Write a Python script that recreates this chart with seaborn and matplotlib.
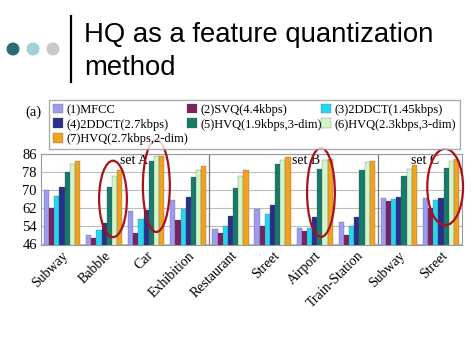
import numpy as np
import pandas as pd
import seaborn as sns
from matplotlib import pyplot as plt
from matplotlib.patches import Ellipse, Circle
from matplotlib.lines import Line2D
from matplotlib.transforms import ScaledTranslation

# noise conditions (set A: 4, set B: 4, set C: 2)
conditions = ['Subway', 'Babble', 'Car', 'Exhibition', 'Restaurant',
              'Street', 'Airport', 'Train-Station', 'Subway', 'Street']
methods = ['(1)MFCC', '(2)SVQ(4.4kbps)', '(3)2DDCT(1.45kbps)',
           '(4)2DDCT(2.7kbps)', '(5)HVQ(1.9kbps,3-dim)',
           '(6)HVQ(2.3kbps,3-dim)', '(7)HVQ(2.7kbps,2-dim)']

mfcc     = [70.1, 50.0, 60.7, 65.4, 52.6, 61.7, 53.2, 55.9, 66.4, 66.4]
svq      = [62.0, 48.4, 51.0, 56.7, 50.7, 54.1, 51.6, 50.0, 65.3, 62.0]
ddct145  = [67.2, 52.3, 57.0, 61.7, 53.9, 59.5, 53.0, 53.8, 66.1, 65.4]
ddct27   = [71.1, 55.5, 60.9, 66.9, 58.4, 63.2, 58.0, 58.0, 67.0, 66.3]
hvq19    = [78.2, 71.1, 83.1, 75.7, 70.7, 81.4, 79.4, 79.1, 76.2, 79.6]
hvq23    = [81.6, 76.4, 85.3, 79.1, 76.3, 83.5, 83.4, 82.6, 79.2, 82.9]
hvq27    = [83.1, 78.9, 85.3, 80.6, 78.9, 84.8, 83.8, 83.1, 81.3, 83.6]

yticks = [46, 54, 62, 70, 78, 86]
colors = ['#9d9cf0', '#7c2060', '#22d8f0', '#2b2f8c', '#167a6c', '#d2f5c8', '#f2a21e']

series = [mfcc, svq, ddct145, ddct27, hvq19, hvq23, hvq27]
rows = []
for m, vals in zip(methods, series):
    for i, v in enumerate(vals):
        rows.append({'cond': str(i), 'method': m, 'val': v})
df = pd.DataFrame(rows)

fig = plt.figure(figsize=(4.74, 3.55), dpi=100)

# slide header
for cx, c in zip([13, 33, 53], ['#2d6b70', '#9fd2d4', '#c9c9c9']):
    fig.add_artist(Circle((cx / 100, (355 - 49) / 100), 0.058, color=c,
                          transform=fig.dpi_scale_trans))
fig.add_artist(Line2D([71 / 474, 71 / 474], [1 - 16 / 355, 1 - 82 / 355],
                      color='black', lw=1.6))
fig.text(84 / 474, 1 - 42 / 355, 'HQ as a feature quantization',
         fontsize=19.8, family='Liberation Sans', va='baseline')
fig.text(84 / 474, 1 - 75 / 355, 'method',
         fontsize=19.8, family='Liberation Sans', va='baseline')

ax = fig.add_axes([41 / 474, 1 - 245 / 355, 421 / 474, 91 / 355])
sns.barplot(data=df, x='cond', y='val', hue='method', palette=colors,
            saturation=1, width=0.86, edgecolor='#555555', linewidth=0.2,
            ax=ax, legend=True, zorder=3)
ax.set_ylim(45.5, 86)
ax.set_xlim(-0.5, 9.5)
ax.set_yticks(yticks)
ax.set_yticklabels([str(t) for t in yticks], family='Liberation Serif', fontsize=10.5)
ax.set_xticks(range(len(conditions)))
ax.set_xticklabels(conditions, rotation=45, ha='right', rotation_mode='anchor',
                   family='Liberation Serif', fontsize=10)
shift = ScaledTranslation(7 / 100, 0, fig.dpi_scale_trans)
for lab in ax.get_xticklabels():
    lab.set_transform(lab.get_transform() + shift)
ax.tick_params(length=0, pad=3)
ax.set_xlabel('')
ax.set_ylabel('')
ax.yaxis.grid(True, color='#bdbdbd', lw=0.8, zorder=0)
ax.set_axisbelow(True)
for s in ax.spines.values():
    s.set_color('#999999')
    s.set_linewidth(0.8)
for xv in [3.5, 7.5]:
    ax.axvline(xv, color='#777777', lw=0.9, zorder=1)

for xt, t in zip([1.38, 5.46, 8.3], ['set A', 'set B', 'set C']):
    ax.text(xt, 83.3, t, family='Liberation Serif', fontsize=10, va='center',
            zorder=2)

for cx, cy, w, h in [(1.21, 66, 0.66, 34), (2.24, 71.8, 0.64, 41),
                     (6.15, 68.9, 0.66, 39.6), (9.1, 71.3, 0.85, 34)]:
    ax.add_patch(Ellipse((cx, cy), w, h, fill=False, edgecolor='#a8101c',
                         lw=1.6, clip_on=False, zorder=5))

# legend in three columns, row-wise order as in the figure
handles, labels = ax.get_legend_handles_labels()
order = [0, 3, 6, 1, 4, 2, 5]
ax.legend([handles[i] for i in order], [labels[i] for i in order], ncol=3,
          loc='lower left', bbox_to_anchor=(8 / 421, 1.055, 411 / 421, 0.5),
          mode='expand', prop={'family': 'Liberation Serif', 'size': 9},
          frameon=True, fancybox=False, edgecolor='#999999',
          handlelength=0.8, handleheight=0.8, handletextpad=0.3,
          labelspacing=0.2, borderpad=0.3, columnspacing=0.5,
          borderaxespad=0)
fig.text(25 / 474, 1 - 112 / 355, '(a)', family='Liberation Serif',
         fontsize=10.5, va='center')

fig.savefig('out.png', dpi=100)
